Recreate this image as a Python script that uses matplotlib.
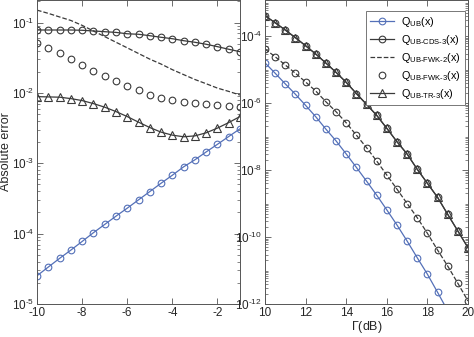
import matplotlib
matplotlib.use("Agg")
import matplotlib.pyplot as plt
import numpy as np
from matplotlib.ticker import LogLocator, NullFormatter, FixedLocator, FuncFormatter

plt.rcParams["font.family"] = ["Liberation Sans", "DejaVu Sans"]
plt.rcParams["mathtext.fontset"] = "custom"
plt.rcParams["mathtext.rm"] = "Liberation Sans"
plt.rcParams["mathtext.it"] = "Liberation Sans:italic"
plt.rcParams["axes.unicode_minus"] = False

# low-SNR range (left panel)
x_low = np.arange(-10, -0.99, 0.5)
ub_low = [2.52e-5, 3.35e-5, 4.45e-5, 5.83e-5, 7.74e-5, 1.03e-4, 1.35e-4, 1.77e-4,
          2.30e-4, 3.02e-4, 3.96e-4, 5.20e-4, 6.76e-4, 8.9e-4, 1.12e-3, 1.45e-3,
          1.86e-3, 2.40e-3, 3.09e-3]
cds3_low = [0.0783, 0.0783, 0.0783, 0.0783, 0.0776, 0.0759, 0.0741, 0.0724, 0.0692,
            0.0681, 0.0650, 0.0617, 0.0589, 0.0552, 0.0524, 0.0491, 0.0454, 0.0417,
            0.0385]
fwk2_low = [0.150, 0.135, 0.120, 0.107, 0.0912, 0.0759, 0.0631, 0.0525, 0.0437,
            0.0363, 0.0302, 0.0257, 0.0214, 0.0182, 0.0155, 0.0135, 0.0117, 0.0105,
            0.00933]
fwk3_low = [0.0518, 0.0431, 0.0366, 0.0301, 0.0249, 0.0207, 0.0173, 0.0147, 0.01256,
            0.0109, 0.00946, 0.00857, 0.00804, 0.00745, 0.00714, 0.00692, 0.00670,
            0.00655, 0.00632]
tr3_low = [0.00885, 0.00877, 0.00869, 0.00830, 0.00778, 0.00705, 0.00627, 0.00543,
           0.00461, 0.00384, 0.00322, 0.00277, 0.00251, 0.00238, 0.00245, 0.00271,
           0.00316, 0.00379, 0.00461]

# high-SNR range (right panel)
x_high = np.arange(10, 20.01, 0.5)
ub_high = [1.58e-5, 7.76e-6, 3.72e-6, 1.82e-6, 8.51e-7, 3.89e-7, 1.66e-7, 7.41e-8,
           3.02e-8, 1.20e-8, 4.68e-9, 1.78e-9, 6.46e-10, 2.29e-10, 7.59e-11, 2.40e-11,
           7.76e-12, 2.24e-12, 6.3e-13, 1.74e-13, 4.47e-14]
cds3_high = [4.04e-4, 2.49e-4, 1.51e-4, 8.89e-5, 5.13e-5, 2.90e-5, 1.56e-5, 8.24e-6,
             4.15e-6, 1.92e-6, 9.14e-7, 4.30e-7, 1.76e-7, 7.00e-8, 3.01e-8, 1.05e-8,
             4.01e-9, 1.53e-9, 4.76e-10, 1.51e-10, 4.80e-11]
fwk2_high = [4.09e-5, 2.41e-5, 1.36e-5, 7.71e-6, 4.24e-6, 2.28e-6, 1.09e-6, 5.50e-7,
             2.57e-7, 1.10e-7, 4.68e-8, 1.86e-8, 7.08e-9, 2.69e-9, 1.0e-9, 3.77e-10,
             1.29e-10, 4.09e-11, 1.36e-11, 4.15e-12, 1.23e-12]
fwk3_high = [4.09e-5, 2.41e-5, 1.36e-5, 7.71e-6, 4.24e-6, 2.28e-6, 1.09e-6, 5.50e-7,
             2.57e-7, 1.10e-7, 4.68e-8, 1.86e-8, 7.08e-9, 2.69e-9, 1.0e-9, 3.77e-10,
             1.29e-10, 4.09e-11, 1.36e-11, 4.15e-12, 1.23e-12]
tr3_high = [4.04e-4, 2.49e-4, 1.51e-4, 8.89e-5, 5.13e-5, 2.90e-5, 1.56e-5, 8.24e-6,
            4.15e-6, 1.92e-6, 9.14e-7, 4.30e-7, 1.76e-7, 7.00e-8, 3.01e-8, 1.05e-8,
            4.01e-9, 1.53e-9, 4.76e-10, 1.51e-10, 4.80e-11]

HY = "\u2010"
labels = [r"Q$_{\mathrm{UB}}$(x)",
          r"Q$_{\mathrm{UB%sCDS%s3}}$(x)" % (HY, HY),
          r"Q$_{\mathrm{UB%sFWK%s2}}$(x)" % (HY, HY),
          r"Q$_{\mathrm{UB%sFWK%s3}}$(x)" % (HY, HY),
          r"Q$_{\mathrm{UB%sTR%s3}}$(x)" % (HY, HY)]

BLUE = "#5470b8"
DARK = "#3a3a3a"
AXC = "#555555"
TXT = "#262626"


def pow10(v, pos):
    n = int(round(np.log10(v)))
    return r"$\mathregular{10^{%s}}$" % (str(n).replace("-", HY))


def draw(ax, x, ub, cds3, fwk2, fwk3, tr3):
    mk = dict(markersize=4.8, markerfacecolor="none", markeredgewidth=0.8)
    ax.plot(x, ub, "-o", color=BLUE, lw=0.9, label=labels[0], **mk)
    ax.plot(x, cds3, "-o", color=DARK, lw=0.9, label=labels[1], **mk)
    ax.plot(x, fwk2, "--", color=DARK, lw=0.9, label=labels[2])
    ax.plot(x, fwk3, "o", color=DARK, label=labels[3], **mk)
    ax.plot(x, tr3, "-^", color=DARK, lw=0.9, label=labels[4],
            markersize=5.5, markerfacecolor="none", markeredgewidth=0.8)
    ax.set_yscale("log")
    ax.tick_params(which="both", direction="in", top=True, right=True,
                   colors=AXC, labelcolor=TXT, labelsize=8.5, pad=2)
    ax.tick_params(which="major", length=4, width=0.6)
    ax.tick_params(which="minor", length=2, width=0.5)
    ax.yaxis.set_major_formatter(FuncFormatter(pow10))
    ax.yaxis.set_minor_formatter(NullFormatter())
    for s in ax.spines.values():
        s.set_color(AXC)
        s.set_linewidth(0.7)


fig = plt.figure(figsize=(4.74, 3.37), dpi=100)
ax1 = fig.add_axes([37 / 474, 0.0979, 203 / 474, 0.9021])
ax2 = fig.add_axes([265 / 474, 0.0979, 203 / 474, 0.9021])

draw(ax1, x_low, ub_low, cds3_low, fwk2_low, fwk3_low, tr3_low)
ax1.set_xlim(-10, -1)
ax1.set_ylim(1e-5, 0.209)
ax1.set_xticks([-10, -8, -6, -4, -2])
ax1.yaxis.set_major_locator(LogLocator(base=10, numticks=10))
ax1.yaxis.set_minor_locator(LogLocator(base=10, subs=np.arange(2, 10), numticks=10))
ax1.set_ylabel("Absolute error", fontsize=9, color=TXT)
ax1.yaxis.set_label_coords(-0.125, 0.5)

draw(ax2, x_high, ub_high, cds3_high, fwk2_high, fwk3_high, tr3_high)
ax2.set_xlim(10, 20)
ax2.set_ylim(1e-12, 1.19e-3)
ax2.set_xticks([10, 12, 14, 16, 18, 20])
ax2.yaxis.set_major_locator(FixedLocator([1e-12, 1e-10, 1e-8, 1e-6, 1e-4]))
ax2.yaxis.set_minor_locator(LogLocator(base=10, subs=np.arange(1, 10), numticks=20))
ax2.set_xlabel(r"$\Gamma$(dB)", fontsize=9, color=TXT, labelpad=0)

leg = ax2.legend(loc="upper right", bbox_to_anchor=(1.0, 0.975), fontsize=7.8,
                 fancybox=False, framealpha=1, edgecolor="#777777",
                 handlelength=2.2, borderpad=0.35, labelspacing=0.38,
                 handletextpad=0.7, borderaxespad=0.3)
leg.get_frame().set_linewidth(0.7)

fig.savefig("out.png", dpi=100)
